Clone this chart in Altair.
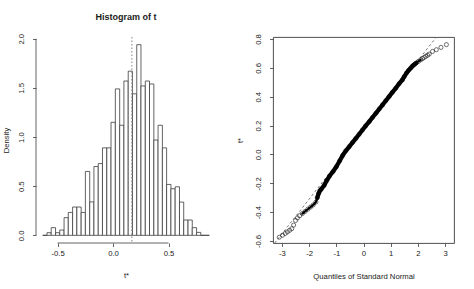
import altair as alt
import pandas as pd

FONT = "Liberation Sans"
INK = "#1a1a1a"
LINE = "#3c3c3c"

# ---------------- histogram of t* ----------------
hist_breaks = [-0.634, -0.595, -0.557, -0.518, -0.480, -0.441, -0.403, -0.364,
               -0.326, -0.287, -0.249, -0.210, -0.172, -0.133, -0.095, -0.056,
               -0.018, 0.021, 0.060, 0.098, 0.137, 0.175, 0.214, 0.252, 0.291,
               0.329, 0.368, 0.406, 0.445, 0.483, 0.522, 0.560, 0.599, 0.637,
               0.676, 0.714, 0.753, 0.791, 0.830, 0.868]
hist_density = [0.0, 0.027, 0.078, 0.027, 0.054, 0.18, 0.233, 0.288, 0.288,
                0.233, 0.65, 0.34, 0.70, 0.73, 0.89, 0.89, 1.15, 1.49, 1.12,
                1.57, 1.67, 1.44, 1.94, 1.52, 1.57, 1.54, 0.97, 1.12, 0.89,
                0.518, 0.474, 0.494, 0.338, 0.156, 0.156, 0.078, 0.03, 0.0, 0.0]
t0 = 0.17
hist_xlim = [-0.694, 0.928]
hist_ylim = [-0.078, 2.018]
hist_x_ticks = [-0.5, 0.0, 0.5]
hist_y_ticks = [0.0, 0.5, 1.0, 1.5, 2.0]

# ---------------- normal QQ plot ----------------
qq_theoretical = [-3.10, -2.98, -2.88, -2.80, -2.72, -2.64, -2.57, -2.50, -2.43,
                  -2.35, -2.25, -2.15, -2.05, -1.95, -1.85, -1.75, -1.70, -1.65,
                  -1.60, -1.55, -1.45, -1.35, -1.25, -1.12, -1.00, -0.88, -0.77,
                  -0.65, -0.53, -0.40, -0.28, -0.16, -0.04, 0.08, 0.21, 0.33,
                  0.46, 0.58, 0.70, 0.82, 0.94, 1.06, 1.19, 1.31, 1.43, 1.50,
                  1.58, 1.66, 1.74, 1.80, 1.86, 1.94, 2.02, 2.10, 2.17, 2.23,
                  2.29, 2.36, 2.42, 2.54, 2.68, 2.85, 3.05]
qq_sample = [-0.574, -0.560, -0.548, -0.537, -0.526, -0.515, -0.490, -0.458, -0.440,
             -0.425, -0.410, -0.395, -0.380, -0.365, -0.350, -0.330, -0.300, -0.270,
             -0.250, -0.240, -0.215, -0.180, -0.150, -0.118, -0.086, -0.045, -0.008,
             0.025, 0.053, 0.083, 0.111, 0.140, 0.169, 0.198, 0.227, 0.256,
             0.286, 0.315, 0.343, 0.372, 0.401, 0.430, 0.460, 0.490, 0.517, 0.540,
             0.564, 0.583, 0.599, 0.612, 0.622, 0.634, 0.645, 0.655, 0.664, 0.672,
             0.680, 0.688, 0.696, 0.714, 0.726, 0.742, 0.761]
qq_ref_q = [-3.267, 2.683]
qq_ref_t = [-0.614, 0.814]
qq_xlim = [-3.33, 3.33]
qq_ylim = [-0.614, 0.814]
qq_x_ticks = [-3, -2, -1, 0, 1, 2, 3]
qq_y_ticks = [-0.6, -0.4, -0.2, 0.0, 0.2, 0.4, 0.6, 0.8]
qq_dense_range = [-1.70, 1.95]
qq_mid_range = [-2.30, 2.10]

FS = 7.7


def num_label(fmt):
    return ("datum.value < 0 ? '-' + format(-datum.value, '%s') : format(datum.value, '%s')"
            % (fmt, fmt))


axis_common = dict(labelFont=FONT, labelFontSize=FS, labelColor=INK,
                   titleFont=FONT, titleFontSize=FS, titleFontWeight="normal",
                   titleColor=INK, tickColor=LINE, tickSize=3.5, tickWidth=0.8,
                   domain=False, grid=False, labelOverlap=False, labelFlush=False)

# ---------- left panel ----------
hist_df = pd.DataFrame({
    "lo": hist_breaks[:-1],
    "hi": hist_breaks[1:],
    "density": hist_density,
})
hist_df["zero"] = 0.0

hx = alt.Scale(domain=hist_xlim, nice=False, zero=False)
hy = alt.Scale(domain=hist_ylim, nice=False, zero=False)

hist_xaxis = alt.Axis(values=hist_x_ticks, title="t*", labelExpr=num_label(".1f"),
                      labelPadding=3, titleY=32, titleBaseline="middle", **axis_common)
hist_yaxis = alt.Axis(values=hist_y_ticks, title="Density", labelExpr=num_label(".1f"),
                      labelAngle=270, labelAlign="center", labelBaseline="bottom",
                      labelPadding=7, titleX=-30, titleBaseline="middle", **axis_common)

bars = alt.Chart(hist_df).mark_rect(fill="white", stroke=LINE, strokeWidth=0.8).encode(
    x=alt.X("lo:Q", scale=hx, axis=hist_xaxis),
    x2="hi:Q",
    y=alt.Y("zero:Q", scale=hy, axis=hist_yaxis),
    y2="density:Q",
)

vline = alt.Chart(pd.DataFrame({"t0": [t0]})).mark_rule(
    color="#777", strokeWidth=0.9, strokeDash=[1.5, 2]).encode(
    x=alt.X("t0:Q", scale=hx, axis=hist_xaxis))

xaxis_line = alt.Chart(pd.DataFrame({
    "a": [min(hist_x_ticks)], "b": [max(hist_x_ticks)], "y": [hist_ylim[0]]
})).mark_rule(color=LINE, strokeWidth=0.8).encode(
    x=alt.X("a:Q", scale=hx, axis=hist_xaxis), x2="b:Q",
    y=alt.Y("y:Q", scale=hy, axis=hist_yaxis))

yaxis_line = alt.Chart(pd.DataFrame({
    "x": [hist_xlim[0]], "a": [min(hist_y_ticks)], "b": [max(hist_y_ticks)]
})).mark_rule(color=LINE, strokeWidth=0.8).encode(
    x=alt.X("x:Q", scale=hx, axis=hist_xaxis),
    y=alt.Y("a:Q", scale=hy, axis=hist_yaxis), y2="b:Q")

hist = alt.layer(bars, vline, xaxis_line, yaxis_line).properties(
    width=180, height=206,
    title=alt.TitleParams("Histogram of t", font=FONT, fontSize=9, fontWeight="bold",
                          color=INK, offset=11, anchor="middle", frame="group"),
)

# ---------- right panel ----------
qq_df = pd.DataFrame({"q": qq_theoretical, "t": qq_sample})
ref_df = pd.DataFrame({"q": qq_ref_q, "t": qq_ref_t})

qx = alt.Scale(domain=qq_xlim, nice=False, zero=False)
qy = alt.Scale(domain=qq_ylim, nice=False, zero=False)

qq_xaxis = alt.Axis(values=qq_x_ticks, title="Quantiles of Standard Normal",
                    labelExpr=num_label(".0f"), labelPadding=3, titleY=33,
                    titleBaseline="middle", **axis_common)
qq_yaxis = alt.Axis(values=qq_y_ticks, title="t*", labelExpr=num_label(".1f"),
                    labelAngle=270, labelAlign="center", labelBaseline="bottom",
                    labelPadding=7, titleX=-33, titleBaseline="middle", **axis_common)

enc_x = alt.X("q:Q", scale=qx, axis=qq_xaxis)
enc_y = alt.Y("t:Q", scale=qy, axis=qq_yaxis)

ref = alt.Chart(ref_df).mark_line(color="#666", strokeWidth=0.9,
                                  strokeDash=[2.5, 2.5]).encode(x=enc_x, y=enc_y)

mid = alt.Chart(qq_df).transform_filter(
    (alt.datum.q >= qq_mid_range[0]) & (alt.datum.q <= qq_mid_range[1])
).mark_line(color="black", strokeWidth=2.2, strokeCap="round", strokeJoin="round").encode(
    x=enc_x, y=enc_y, order="q:Q")

dense = alt.Chart(qq_df).transform_filter(
    (alt.datum.q >= qq_dense_range[0]) & (alt.datum.q <= qq_dense_range[1])
).mark_line(color="black", strokeWidth=4.3, strokeCap="round", strokeJoin="round").encode(
    x=enc_x, y=enc_y, order="q:Q")

pts = alt.Chart(qq_df).mark_point(shape="circle", filled=False, color="black",
                                  size=17, strokeWidth=0.8).encode(x=enc_x, y=enc_y)

qq = alt.layer(ref, mid, dense, pts).properties(
    width=181, height=206,
    view=alt.ViewBackground(stroke=LINE, strokeWidth=0.9),
)

chart = alt.hconcat(hist, qq, spacing=57, bounds="flush").properties(
    padding={"left": 2, "top": 13, "right": 10, "bottom": 8},
    background="white",
).configure_view(strokeWidth=0).configure_axis(labelOverlap=False)

chart.save("out.html", embed_options={"renderer": "svg", "actions": False})
